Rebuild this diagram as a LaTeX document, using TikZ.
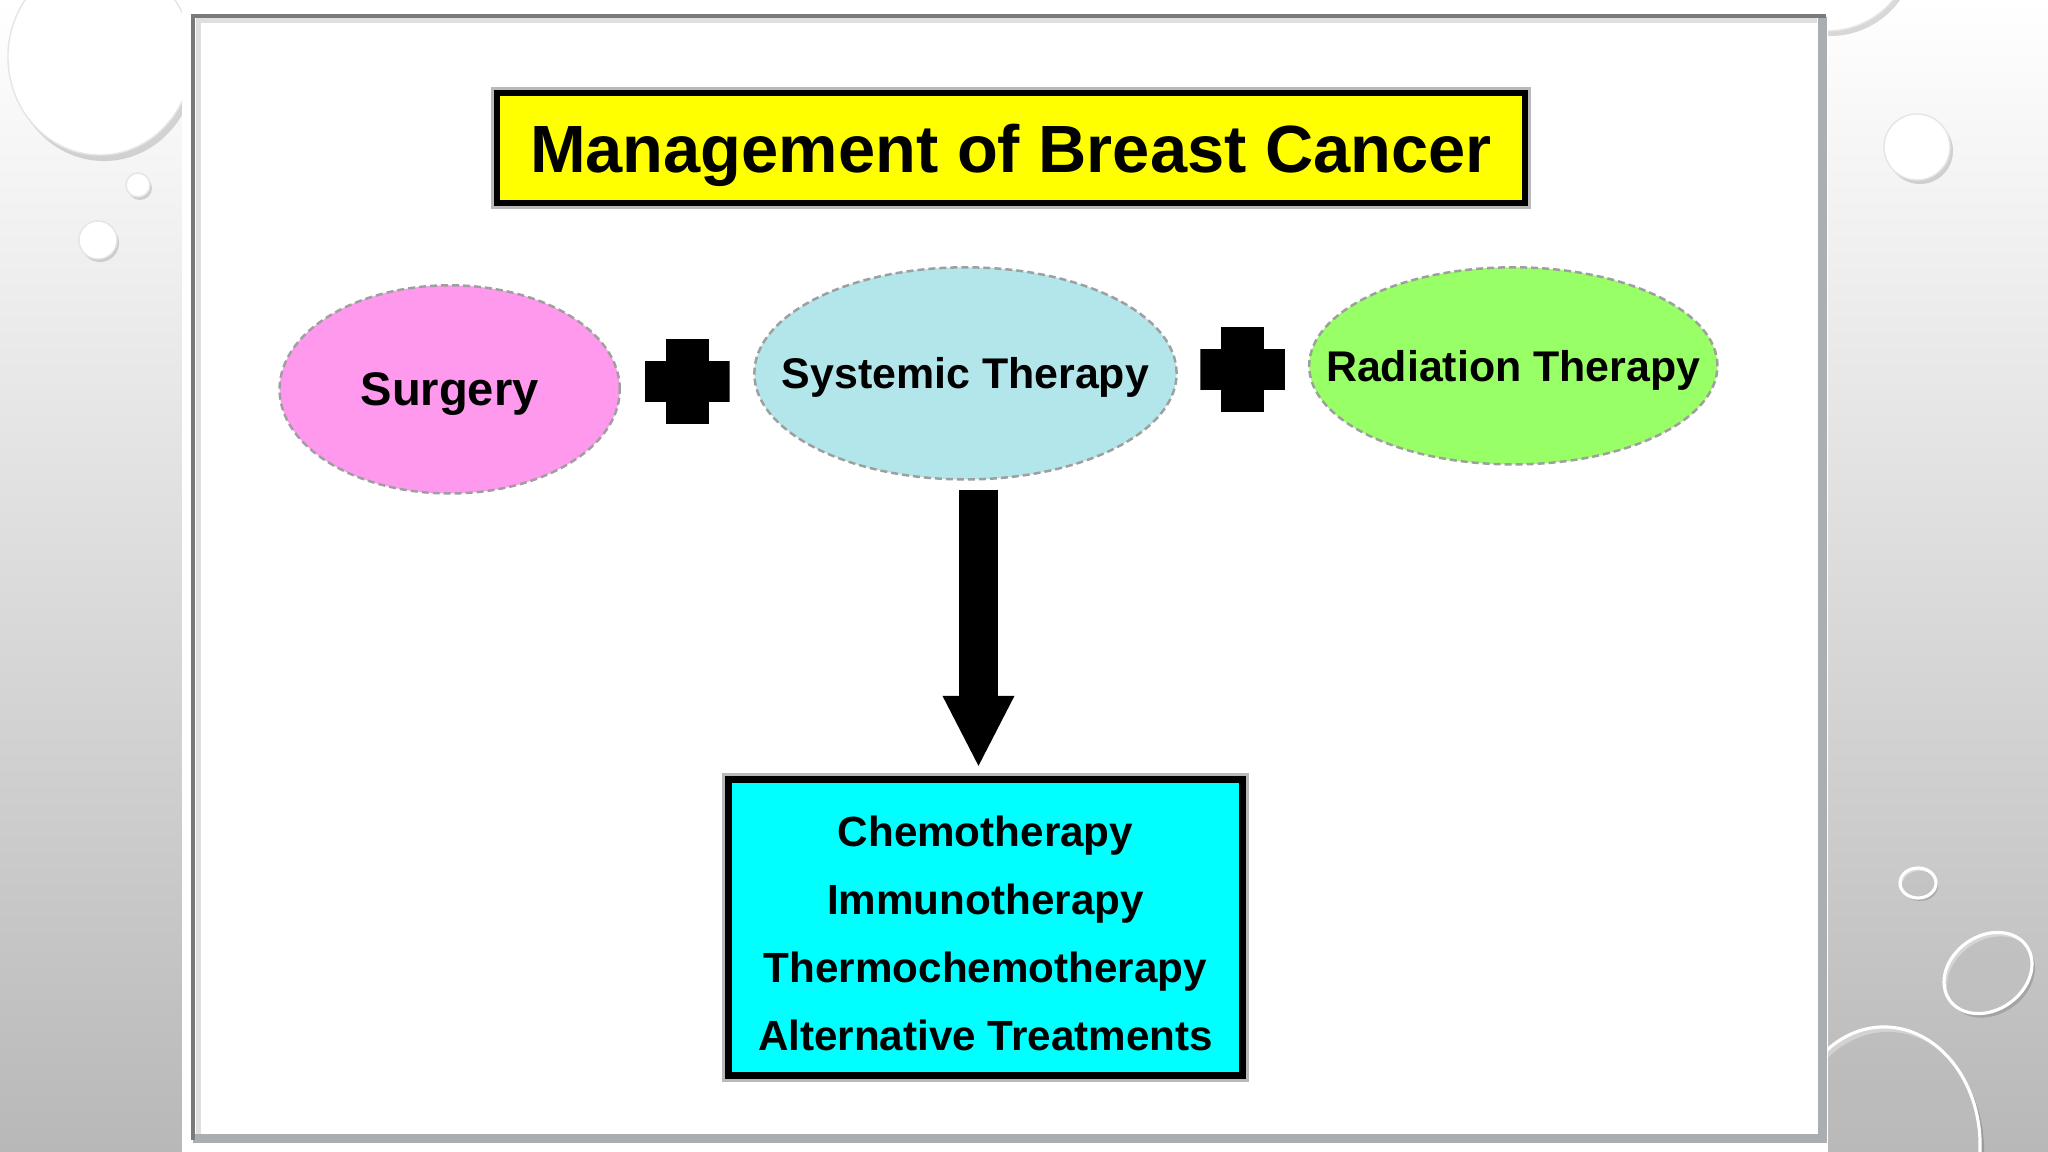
\documentclass[tikz,border=0pt]{standalone}
\usepackage{fontspec}
\setmainfont{Liberation Sans}
\usetikzlibrary{positioning,calc,arrows.meta,shapes.geometric}
\definecolor{titleyellow}{HTML}{FFFF00}
\definecolor{surgpink}{HTML}{FF99EE}
\definecolor{sysblue}{HTML}{B2E6EA}
\definecolor{radgreen}{HTML}{99FF66}
\definecolor{listcyan}{HTML}{00FFFF}
\definecolor{bgmid}{HTML}{E2E2E2}
\definecolor{bggray}{HTML}{B8B8B8}
\definecolor{framedark}{HTML}{7A7A7A}
\definecolor{framelight}{HTML}{ABAEB0}

\begin{document}
\begin{tikzpicture}[
  x=0.01cm, y=-0.01cm,
  titlebox/.style={draw=black, fill=titleyellow, line width=0.06cm,
              preaction={draw=gray!55, line width=0.12cm},
              minimum width=10.27cm, minimum height=1.10cm, text depth=0pt,
              font=\fontsize{19}{22}\selectfont\bfseries},
  oval/.style={ellipse, draw=gray!75, dash pattern=on 0.07cm off 0.04cm,
              line width=0.025cm, inner xsep=-0.6cm, inner ysep=0pt,
              text depth=0pt, font=\fontsize{12.2}{14}\selectfont\bfseries},
  listbox/.style={draw=black, fill=listcyan, line width=0.07cm,
              preaction={draw=gray!55, line width=0.13cm},
              minimum width=5.13cm, minimum height=2.96cm, align=center,
              font=\fontsize{12}{19.3}\selectfont\bfseries},
  plussign/.style={minimum size=0.85cm, inner sep=0pt, path picture={
      \fill[black] ([xshift=0.21cm]path picture bounding box.south west)
        rectangle ([xshift=-0.21cm]path picture bounding box.north east);
      \fill[black] ([yshift=0.22cm]path picture bounding box.south west)
        rectangle ([yshift=-0.22cm]path picture bounding box.north east);}},
  bigarrow/.style={line width=0.38cm,
              -{Triangle[length=0.70cm, width=0.72cm, line width=0pt]},
              shorten <=0.09cm, shorten >=0.10cm},
  drop/.style={fill=white, draw=gray!20, line width=0.4pt},
  dropglass/.style={fill=white, fill opacity=0.3, draw=white, line width=0.9pt},
  dropshadow/.style={fill=black, fill opacity=0.15}
]
  \useasboundingbox (0,0) rectangle (2048,1152);

  % Slide background with drops
  \shade[top color=white, middle color=bgmid, bottom color=bggray]
    (0,0) rectangle (2048,1152);
  \begin{scope}
    \clip (0,0) rectangle (182,1152);
    \fill[dropshadow] (104,63) ellipse [x radius=0.92cm, y radius=0.98cm];
    \draw[drop] (100,57) ellipse [x radius=0.92cm, y radius=0.98cm];
  \end{scope}
  \fill[dropshadow] (140,188) circle [radius=0.12cm];
  \draw[drop] (138,185) circle [radius=0.12cm];
  \fill[dropshadow] (100,243) circle [radius=0.19cm];
  \draw[drop] (98,240) circle [radius=0.19cm];
  \begin{scope}
    \clip (1828,0) rectangle (2048,1152);
    \fill[dropshadow] (1830,-50) circle [radius=0.86cm];
    \draw[drop] (1827,-55) circle [radius=0.86cm];
    \fill[dropshadow] (1888,1150) ellipse [x radius=0.96cm, y radius=1.18cm];
    \draw[dropglass] (1884,1145) ellipse [x radius=0.96cm, y radius=1.18cm];
  \end{scope}
  \fill[dropshadow] (1920,151) circle [radius=0.33cm];
  \draw[drop] (1917,147) circle [radius=0.33cm];
  \fill[dropshadow] (1920,886) ellipse [x radius=0.18cm, y radius=0.15cm];
  \draw[dropglass] (1918,883) ellipse [x radius=0.18cm, y radius=0.15cm];
  \fill[dropshadow, rotate around={35:(1991,977)}]
    (1991,977) ellipse [x radius=0.47cm, y radius=0.37cm];
  \draw[dropglass, rotate around={35:(1988,973)}]
    (1988,973) ellipse [x radius=0.47cm, y radius=0.37cm];

  % White panel and frame
  \fill[white] (182,0) rectangle (1828,1152);
  \draw[framelight, line width=0.09cm] (1822,17) -- (1822,1138) -- (193,1138);
  \draw[framedark, line width=0.045cm] (193,1140) -- (193,16) -- (1826,16);
  \draw[gray!25, line width=0.05cm] (198,1134) -- (198,21) -- (1817,21);

  % Title
  \node[titlebox] (title) at (1011,148) {Management of Breast Cancer};

  % Row of therapies
  \node[oval, fill=sysblue, minimum width=4.22cm, minimum height=2.12cm,
        below=0.6cm of title, xshift=-0.455cm] (sys) {Systemic Therapy};
  \node[oval, fill=surgpink, minimum width=3.40cm, minimum height=2.08cm,
        left=1.32cm of sys, yshift=-0.16cm,
        font=\fontsize{13.4}{15}\selectfont\bfseries] (surg) {Surgery};
  \node[oval, fill=radgreen, minimum width=4.08cm, minimum height=1.97cm,
        right=1.30cm of sys, yshift=0.075cm] (rad) {Radiation Therapy};

  % Plus signs between the ovals
  \node[plussign] (plus1) at ($(surg.east)!0.5!(sys.west)$) {};
  \node[plussign] (plus2) at ($(sys.east)!0.5!(rad.west)$) {};

  % List of systemic treatments
  \node[listbox, below=2.95cm of sys, xshift=0.20cm] (list)
    {\rule{0pt}{0.43cm}Chemotherapy\\Immunotherapy\\Thermochemotherapy\\Alternative Treatments};

  % Arrow sits a little left of the box centre
  \draw[bigarrow] ($(sys.south -| list.north)+(-7,0)$) -- ($(list.north)+(-7,0)$);
\end{tikzpicture}
\end{document}
